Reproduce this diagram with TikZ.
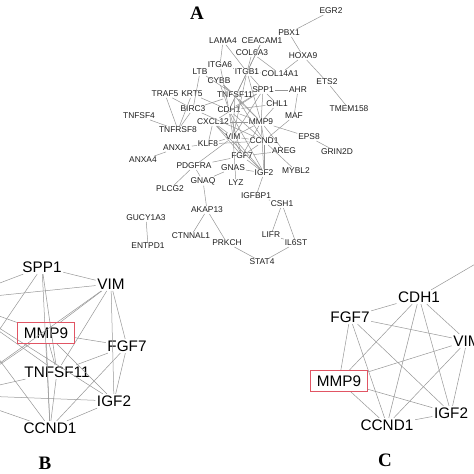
\documentclass[tikz,border=0pt]{standalone}
\usepackage{fontspec}
\setsansfont{Liberation Sans}
\setmainfont{Liberation Serif}
\definecolor{EdgeGray}{RGB}{150,150,150}
\definecolor{TextGray}{RGB}{30,30,30}
\definecolor{BoxRed}{RGB}{225,85,100}
\usetikzlibrary{positioning}

\begin{document}
\begin{tikzpicture}[x=1pt, y=-1pt,
    gene/.style={font=\sffamily\fontsize{8.4}{9}\selectfont, text=TextGray, inner sep=0.8pt},
    biggene/.style={font=\sffamily\fontsize{15.3}{17}\selectfont, text=black, inner sep=1.5pt},
    hub/.style={biggene, minimum width=56pt, minimum height=20pt},
    hubbox/.style={draw=BoxRed, line width=0.7pt},
    edge/.style={EdgeGray, line width=0.5pt},
    panel/.style={font=\rmfamily\bfseries\fontsize{19}{21}\selectfont}]
  \useasboundingbox (0,0) rectangle (474,474);
  \clip (0,0) rectangle (474,474);

  % C: hub genes, cut at the right edge
  \begin{scope}
    \node[panel] (lab-c) at (385,460) {C};
    \node[biggene] (c-cdh1) at (419,297) {CDH1};
    \node[biggene] (c-fgf7) at (350,317) {FGF7};
    \node[biggene] (c-vim) at (467,341) {VIM};
    \node[hub] (c-mmp9) at (339,381) {MMP9};
    \node[biggene] (c-igf2) at (451,413) {IGF2};
    \node[biggene] (c-ccnd1) at (387,425) {CCND1};
    \coordinate (c-far) at (530,232);
    \foreach \a/\b in {cdh1/fgf7, cdh1/vim, cdh1/mmp9, cdh1/igf2, cdh1/ccnd1,
        fgf7/vim, fgf7/mmp9, fgf7/igf2, fgf7/ccnd1, vim/mmp9, vim/igf2, vim/ccnd1,
        mmp9/igf2, mmp9/ccnd1, igf2/ccnd1}
      \draw[edge] (c-\a) -- (c-\b);
    \draw[edge] (c-cdh1) -- (c-far);
    \draw[hubbox] (c-mmp9.south west) rectangle (c-mmp9.north east);
  \end{scope}

  % B: hub genes, cut at the left edge
  \begin{scope}
    \node[panel] (lab-b) at (45,463) {B};
    \node[biggene] (b-spp1) at (42,267) {SPP1};
    \node[biggene] (b-vim) at (111,284) {VIM};
    \node[hub] (b-mmp9) at (46,333) {MMP9};
    \node[biggene] (b-fgf7) at (127,346) {FGF7};
    \node[biggene] (b-tnfsf11) at (57,372) {TNFSF11};
    \node[biggene] (b-igf2) at (114,401) {IGF2};
    \node[biggene] (b-ccnd1) at (50,428) {CCND1};
    \coordinate (b-left1) at (-45,300);
    \coordinate (b-left2) at (-45,395);
    \foreach \a/\b in {spp1/vim, spp1/tnfsf11, spp1/ccnd1, vim/mmp9, vim/tnfsf11, vim/fgf7,
        vim/igf2, mmp9/fgf7, mmp9/tnfsf11, mmp9/igf2, mmp9/ccnd1, fgf7/tnfsf11,
        fgf7/igf2, fgf7/ccnd1, tnfsf11/ccnd1, igf2/ccnd1}
      \draw[edge] (b-\a) -- (b-\b);
    \foreach \a in {spp1, vim, mmp9, tnfsf11, igf2, ccnd1}
      \draw[edge] (b-\a) -- (b-left1) (b-\a) -- (b-left2);
    \draw[hubbox] (b-mmp9.south west) rectangle (b-mmp9.north east);
  \end{scope}

  % A: full network
  \node[panel] (lab-a) at (197,13) {A};
  \node[gene] (egr2) at (331,11) {EGR2};
  \node[gene] (pbx1) at (289,33) {PBX1};
  \node[gene] (lama4) at (223,41) {LAMA4};
  \node[gene] (ceacam1) at (262,41) {CEACAM1};
  \node[gene] (hoxa9) at (303,56) {HOXA9};
  \node[gene] (col6a3) at (252,53) {COL6A3};
  \node[gene] (itga6) at (220,65) {ITGA6};
  \node[gene] (ltb) at (200,72) {LTB};
  \node[gene] (itgb1) at (247,72) {ITGB1};
  \node[gene] (col14a1) at (280,74) {COL14A1};
  \node[gene] (ets2) at (327,82) {ETS2};
  \node[gene] (cybb) at (219,81) {CYBB};
  \node[gene] (traf5) at (165,94) {TRAF5};
  \node[gene] (krt5) at (192,94) {KRT5};
  \node[gene] (tnfsf11) at (235,95) {TNFSF11};
  \node[gene] (spp1) at (263,90) {SPP1};
  \node[gene] (ahr) at (298,90) {AHR};
  \node[gene] (tmem158) at (349,109) {TMEM158};
  \node[gene] (birc3) at (193,109) {BIRC3};
  \node[gene] (cdh1) at (229,110) {CDH1};
  \node[gene] (chl1) at (277,104) {CHL1};
  \node[gene] (tnfsf4) at (139,116) {TNFSF4};
  \node[gene] (maf) at (294,116) {MAF};
  \node[gene] (cxcl12) at (213,122) {CXCL12};
  \node[gene] (mmp9) at (261,122) {MMP9};
  \node[gene] (tnfrsf8) at (178,130) {TNFRSF8};
  \node[gene] (vim) at (233,137) {VIM};
  \node[gene] (ccnd1) at (264,141) {CCND1};
  \node[gene] (eps8) at (309,137) {EPS8};
  \node[gene] (klf8) at (208,144) {KLF8};
  \node[gene] (anxa1) at (177,148) {ANXA1};
  \node[gene] (areg) at (284,151) {AREG};
  \node[gene] (grin2d) at (337,152) {GRIN2D};
  \node[gene] (fgf7) at (242,156) {FGF7};
  \node[gene] (anxa4) at (143,160) {ANXA4};
  \node[gene] (pdgfra) at (194,166) {PDGFRA};
  \node[gene] (gnas) at (233,168) {GNAS};
  \node[gene] (igf2) at (264,173) {IGF2};
  \node[gene] (mybl2) at (296,171) {MYBL2};
  \node[gene] (gnaq) at (203,181) {GNAQ};
  \node[gene] (lyz) at (236,183) {LYZ};
  \node[gene] (plcg2) at (170,189) {PLCG2};
  \node[gene] (igfbp1) at (256,196) {IGFBP1};
  \node[gene] (csh1) at (282,204) {CSH1};
  \node[gene] (akap13) at (207,210) {AKAP13};
  \node[gene] (gucy1a3) at (146,218) {GUCY1A3};
  \node[gene] (ctnnal1) at (191,236) {CTNNAL1};
  \node[gene] (prkch) at (227,243) {PRKCH};
  \node[gene] (lifr) at (271,235) {LIFR};
  \node[gene] (il6st) at (296,243) {IL6ST};
  \node[gene] (entpd1) at (148,246) {ENTPD1};
  \node[gene] (stat4) at (262,262) {STAT4};
  \foreach \a/\b in {egr2/pbx1, pbx1/hoxa9, hoxa9/col14a1, hoxa9/ets2, ets2/tmem158,
      lama4/itga6, lama4/itgb1, ceacam1/itgb1, ceacam1/cdh1, col6a3/itgb1, col6a3/col14a1,
      itga6/itgb1, itga6/cdh1, ltb/birc3, ltb/tnfsf11,
      itgb1/col14a1, itgb1/spp1, itgb1/cdh1, itgb1/mmp9, itgb1/vim,
      cybb/tnfsf11, cybb/cdh1, cybb/mmp9,
      traf5/tnfrsf8, traf5/birc3, krt5/tnfrsf8, krt5/cdh1,
      tnfsf11/mmp9, tnfsf11/ccnd1, tnfsf11/birc3, tnfsf11/vim, tnfsf11/spp1,
      spp1/ahr, spp1/mmp9, spp1/cdh1, spp1/chl1, spp1/cxcl12, spp1/vim,
      ahr/maf, maf/ccnd1, chl1/mmp9, chl1/cdh1,
      birc3/tnfrsf8, birc3/ccnd1, tnfsf4/tnfrsf8,
      cdh1/mmp9, cdh1/vim, cdh1/ccnd1, cdh1/fgf7, cdh1/igf2,
      cxcl12/mmp9, cxcl12/vim, cxcl12/klf8, cxcl12/fgf7, cxcl12/igf2,
      mmp9/vim, mmp9/ccnd1, mmp9/igf2, mmp9/fgf7, mmp9/eps8, mmp9/areg,
      vim/ccnd1, vim/klf8, vim/fgf7, vim/lyz, vim/igf2, vim/pdgfra,
      ccnd1/fgf7, ccnd1/igf2, ccnd1/mybl2, klf8/ccnd1, klf8/anxa1, anxa1/anxa4,
      fgf7/areg, fgf7/pdgfra, fgf7/igf2,
      pdgfra/plcg2, pdgfra/gnaq, gnas/gnaq, gnas/igf2, gnaq/akap13,
      igf2/igfbp1, igfbp1/csh1, csh1/lifr, csh1/il6st, lifr/il6st, il6st/stat4, prkch/stat4,
      akap13/ctnnal1, akap13/prkch, gucy1a3/entpd1, eps8/grin2d}
    \draw[edge] (\a) -- (\b);
\end{tikzpicture}
\end{document}
